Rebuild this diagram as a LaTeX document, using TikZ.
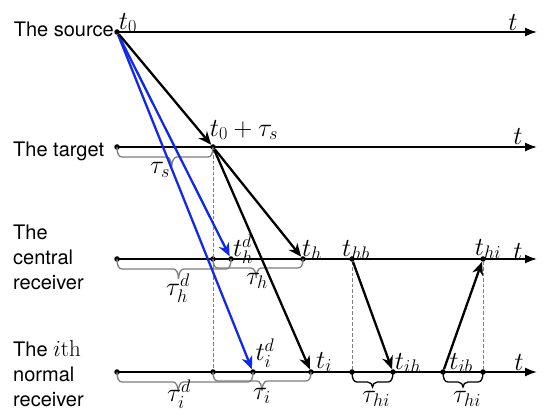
\RequirePackage{fix-cm}
\documentclass[tikz,border=0pt]{standalone}
\usepackage{fontspec}
\newfontfamily\hv{TeX Gyre Heros}
\usetikzlibrary{arrows.meta,calc}
\definecolor{myblue}{RGB}{15,40,240}
\definecolor{bgray}{RGB}{125,125,125}
\begin{document}
\begin{tikzpicture}[x=1pt,y=-1pt,
 dot/.style={circle,fill=black,inner sep=0pt,minimum size=5.5pt},
 tline/.style={line width=1.6pt,-{Latex[length=12pt,width=9pt]}},
 sig/.style={line width=2.3pt,-{Stealth[length=13pt,width=11pt,inset=4pt]}},
 bsig/.style={sig,myblue},
 dsh/.style={gray,line width=0.7pt,dash pattern=on 3.5pt off 2pt},
 lab/.style={font=\fontsize{26}{30}\selectfont,inner sep=0pt},
 txt/.style={font=\hv\fontsize{20}{25}\selectfont,inner sep=0pt,align=left},
 brc/.style n args={3}{to path={(\tikztostart) .. controls +(0,0.7*#2) and +(-3,0) .. ($(\tikztostart)+(5,#2)$)
   -- ($(\tikztostart)!#1!(\tikztotarget)+(-5,#2)$) .. controls +(3,0) and +(0,-0.5*#3+0.5*#2) .. ($(\tikztostart)!#1!(\tikztotarget)+(0,#3)$)
   .. controls +(0,-0.5*#3+0.5*#2) and +(-3,0) .. ($(\tikztostart)!#1!(\tikztotarget)+(5,#2)$)
   -- ($(\tikztotarget)+(-5,#2)$) .. controls +(3,0) and +(0,0.7*#2) .. (\tikztotarget)}},
 gbr/.style={draw=bgray,line width=1.3pt},
 kbr/.style={draw=black,line width=1.3pt}]
\useasboundingbox (0,0) rectangle (550,419);
% points
\node[dot] (src) at (117,32) {};
\node[dot] (tgt0) at (117,147) {};
\node[dot] (tgt) at (213,147) {};
\node[dot] (c0) at (117,259) {};
\node[dot] (c1) at (213,259) {};
\node[dot] (chd) at (231,259) {};
\node[dot] (ch) at (303,259) {};
\node[dot] (chb) at (352,259) {};
\node[dot] (chi) at (483,259) {};
\node[dot] (n0) at (117,372) {};
\node[dot] (n1) at (213,372) {};
\node[dot] (nid) at (253,372) {};
\node[dot] (ni) at (311,372) {};
\node[dot] (nx) at (352,372) {};
\node[dot] (nih) at (393,372) {};
\node[dot] (nib) at (443,372) {};
\node[dot] (nhi) at (483,372) {};
\coordinate (sE) at (537,32);
\coordinate (tE) at (537,147);
\coordinate (cE) at (537,259);
\coordinate (nE) at (537,372);
% time lines
\draw[tline] (src.center) -- (sE);
\draw[tline] (tgt0.center) -- (tE);
\draw[tline] (c0.center) -- (cE);
\draw[tline] (n0.center) -- (nE);
% dashed
\draw[dsh] (tgt) -- (n1);
\draw[dsh] (chb) -- (nx);
\draw[dsh] (chi) -- (nhi);
% braces
\draw[gbr] (tgt0.center) to[brc={0.57}{10}{20}] (tgt.center);
\draw[gbr] (c0.center) to[brc={0.54}{10}{20}] (chd.center);
\draw[gbr] (c1.center) to[brc={0.48}{9}{19}] (ch.center);
\draw[gbr] (n0.center) to[brc={0.45}{10}{20}] (nid.center);
\draw[gbr] (n1.center) to[brc={0.5}{9}{19}] (ni.center);
\draw[kbr] (nx.center) to[brc={0.5}{10}{15}] (nih.center);
\draw[kbr] (nib.center) to[brc={0.5}{10}{15}] (nhi.center);
% signals
\draw[bsig] (src) -- (chd);
\draw[bsig] (src) -- (nid);
\draw[sig] (src) -- (tgt);
\draw[sig] (tgt) -- (ch);
\draw[sig] (tgt) -- (ni);
\draw[sig] (chb) -- (nih);
\draw[sig] (nib) -- (chi);
% math labels
\node[lab] (lt0) at (128,23) {$t_0$};
\node[lab] (lts) at (513,23) {$t$};
\node[lab] (lt0s) at (244,130) {$t_0+\tau_s$};
\node[lab] (ltt) at (518,137) {$t$};
\node[lab] (ltaus) at (160,170) {$\tau_s$};
\node[lab] (lthd) at (243,249) {$t_h^d$};
\node[lab] (lth) at (312,250) {$t_h$};
\node[lab] (lthb) at (356,250) {$t_{hb}$};
\node[lab] (lthi) at (488,249) {$t_{hi}$};
\node[lab] (ltc) at (518,252) {$t$};
\node[lab] (ltauhd) at (178,288) {$\tau_h^d$};
\node[lab] (ltauh) at (257,281) {$\tau_h$};
\node[lab] (ltid) at (265,353) {$t_i^d$};
\node[lab] (lti) at (324,362) {$t_i$};
\node[lab] (ltih) at (408,363) {$t_{ih}$};
\node[lab] (ltib) at (461,363) {$t_{ib}$};
\node[lab] (ltn) at (519,363) {$t$};
\node[lab] (ltauid) at (179,394) {$\tau_i^d$};
\node[lab] (ltaui) at (262,396) {$\tau_i$};
\node[lab] (ltauhia) at (376,399) {$\tau_{hi}$};
\node[lab] (ltauhib) at (467,399) {$\tau_{hi}$};
% text labels
\node[txt,anchor=base east] (Lsrc) at (114,37) {The source};
\node[txt,anchor=base west] (Ltgt) at (13,157) {The target};
\node[txt,anchor=north west] (Lcen) at (13,225) {The\\central\\receiver};
\node[txt,anchor=north west] (Lnor) at (13,340) {The {\fontsize{23}{25}\selectfont$i\mathrm{th}$}\\normal\\receiver};
\end{tikzpicture}
\end{document}
